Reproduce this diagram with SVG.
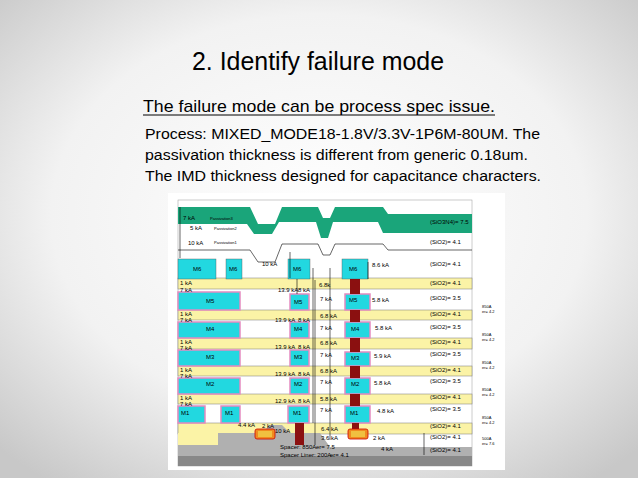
<svg xmlns="http://www.w3.org/2000/svg" width="638" height="478" viewBox="0 0 638 478">
<defs>
<radialGradient id="bg" cx="50%" cy="45%" r="70%"><stop offset="0" stop-color="#ffffff"/><stop offset="0.6" stop-color="#f2f2f2"/><stop offset="1" stop-color="#c8c8c8"/></radialGradient>
<style>
.t{font-family:"Liberation Sans",Arial,sans-serif;fill:#000}
.s{font-family:"Liberation Sans",Arial,sans-serif;font-size:6px;fill:#000}
.xs{font-family:"Liberation Sans",Arial,sans-serif;font-size:4px;fill:#000}
.y{fill:#fbf3a6;stroke:#777;stroke-width:0.5}
.m{fill:#22d8e0;stroke:#e58ac0;stroke-width:1.5}
.v{fill:#8b1010}
.ln{stroke:#000;stroke-width:0.6;fill:none}
</style>
</defs>
<rect width="638" height="478" fill="url(#bg)"/>
<text class="t" x="192" y="70" font-size="25" textLength="252" lengthAdjust="spacingAndGlyphs">2. Identify failure mode</text>
<text class="t" x="143" y="112" font-size="17" textLength="352" lengthAdjust="spacingAndGlyphs">The failure mode can be process spec issue.</text>
<line x1="143" y1="115" x2="495" y2="115" stroke="#000" stroke-width="1"/>
<text class="t" x="145" y="139" font-size="15.5" textLength="395" lengthAdjust="spacingAndGlyphs">Process: MIXED_MODE18-1.8V/3.3V-1P6M-80UM. The</text>
<text class="t" x="145" y="160" font-size="15.5" textLength="383" lengthAdjust="spacingAndGlyphs">passivation thickness is different from generic 0.18um.</text>
<text class="t" x="145" y="181" font-size="15.5" textLength="396" lengthAdjust="spacingAndGlyphs">The IMD thickness designed for capacitance characters.</text>

<g id="figure">
<rect x="168" y="193" width="337" height="277" fill="#fff"/>
<rect x="178" y="200" width="294" height="266" fill="#fff" stroke="#999" stroke-width="0.5"/>
<path d="M178,207 H250 L258,224 H275 L282,207 H318 L323,218 H330 L335,207 H383 L388,214 H472 V233 H383 L378,222 H333 L328,238 H321 L316,222 H279 L272,234 H254 L247,224 H178 Z" fill="#1aa57a"/>
<path class="ln" d="M178,250 H250 L258,262 H275 L282,244 H318 L323,255 H330 L335,244 H383 L388,250 H472"/>
<g id="ild">
<rect class="y" x="178" y="278" width="294" height="11"/>
<rect class="y" x="178" y="310" width="294" height="10"/>
<rect class="y" x="178" y="338" width="294" height="11"/>
<rect class="y" x="178" y="366" width="294" height="10"/>
<rect class="y" x="178" y="394" width="294" height="10"/>
<rect class="y" x="178" y="423" width="294" height="11"/>
</g>
<path d="M178,440 H212 L216,433 H262 L270,425 H282 L290,433 H320 L330,447 H472 V466 H178 Z" fill="#b0b0b0"/>
<rect x="178" y="456" width="294" height="10" fill="#888"/>
<rect x="178" y="433" width="40" height="12" fill="#fbf3a6"/>
<g id="metal6">
<rect x="178" y="259" width="38" height="20" fill="#22d8e0" stroke="#555" stroke-width="0.4"/>
<rect x="226" y="259" width="16" height="20" fill="#22d8e0" stroke="#555" stroke-width="0.4"/>
<rect x="288" y="259" width="22" height="20" fill="#22d8e0" stroke="#555" stroke-width="0.4"/>
<rect x="342" y="259" width="26" height="20" fill="#22d8e0" stroke="#555" stroke-width="0.4"/>
</g>
<g id="metals">
<rect class="m" x="178" y="292" width="62" height="18"/><rect class="m" x="290" y="294" width="19" height="16"/><rect class="m" x="345" y="294" width="25" height="16"/>
<rect class="m" x="178" y="322" width="62" height="16"/><rect class="m" x="290" y="322" width="19" height="16"/><rect class="m" x="345" y="322" width="25" height="16"/>
<rect class="m" x="178" y="350" width="62" height="16"/><rect class="m" x="290" y="350" width="19" height="16"/><rect class="m" x="345" y="352" width="25" height="14"/>
<rect class="m" x="178" y="378" width="62" height="16"/><rect class="m" x="290" y="378" width="19" height="16"/><rect class="m" x="345" y="378" width="25" height="16"/>
<rect class="m" x="178" y="406" width="27" height="17"/><rect class="m" x="221" y="406" width="19" height="17"/><rect class="m" x="288" y="406" width="21" height="17"/><rect class="m" x="345" y="406" width="25" height="17"/>
</g>
<g id="vias">
<rect class="v" x="350" y="279" width="10" height="15"/><rect class="v" x="350" y="310" width="10" height="12"/>
<rect class="v" x="350" y="338" width="10" height="14"/><rect class="v" x="350" y="366" width="10" height="12"/>
<rect class="v" x="350" y="394" width="10" height="12"/><rect class="v" x="352" y="423" width="7" height="14"/>
<rect class="v" x="295" y="423" width="9" height="22"/>
</g>
<g id="gates">
<rect x="255" y="429" width="20" height="10" rx="2" fill="#f08a20" stroke="#c00" stroke-width="0.8"/>
<rect x="258" y="431" width="14" height="6" fill="#f0c040"/>
<rect x="348" y="429" width="20" height="10" rx="2" fill="#f08a20" stroke="#c00" stroke-width="0.8"/>
<rect x="351" y="431" width="14" height="6" fill="#f0c040"/>
</g>
<g id="labels">
<text class="s" x="183" y="220">7 kA</text><text class="xs" x="210" y="220">Passivation3</text>
<text class="s" x="190" y="230">5 kA</text><text class="xs" x="214" y="230">Passivation2</text>
<text class="s" x="188" y="245">10 kA</text><text class="xs" x="214" y="244">Passivation1</text>
<text class="s" x="193" y="271">M6</text><text class="s" x="229" y="271">M6</text><text class="s" x="293" y="271">M6</text><text class="s" x="349" y="271">M6</text>
<text class="s" x="262" y="266">10 kA</text><text class="s" x="372" y="267">8.6 kA</text>
<text class="s" x="180" y="285">1 kA</text><text class="s" x="180" y="292">7 kA</text>
<text class="s" x="319" y="287">6.8k</text><text class="s" x="278" y="292">13.9 kA</text><text class="s" x="298" y="292">8 kA</text>
<text class="s" x="206" y="303">M5</text><text class="s" x="294" y="304">M5</text><text class="s" x="349" y="302">M5</text>
<text class="s" x="320" y="301">7 kA</text><text class="s" x="372" y="302">5.8 kA</text>
<text class="s" x="180" y="316">1 kA</text><text class="s" x="180" y="322">7 kA</text><text class="s" x="320" y="318">6.8 kA</text><text class="s" x="275" y="322">13.9 kA</text><text class="s" x="298" y="322">8 kA</text>
<text class="s" x="206" y="331">M4</text><text class="s" x="294" y="331">M4</text><text class="s" x="351" y="331">M4</text>
<text class="s" x="320" y="330">7 kA</text><text class="s" x="375" y="330">5.8 kA</text>
<text class="s" x="180" y="344">1 kA</text><text class="s" x="180" y="350">7 kA</text><text class="s" x="320" y="345">6.8 kA</text><text class="s" x="275" y="349">13.9 kA</text><text class="s" x="298" y="349">8 kA</text>
<text class="s" x="206" y="359">M3</text><text class="s" x="294" y="359">M3</text><text class="s" x="351" y="360">M3</text>
<text class="s" x="320" y="357">7 kA</text><text class="s" x="374" y="358">5.9 kA</text>
<text class="s" x="180" y="372">1 kA</text><text class="s" x="180" y="378">7 kA</text><text class="s" x="320" y="373">6.8 kA</text><text class="s" x="275" y="376">13.9 kA</text><text class="s" x="298" y="376">8 kA</text>
<text class="s" x="206" y="386">M2</text><text class="s" x="294" y="386">M2</text><text class="s" x="351" y="386">M2</text>
<text class="s" x="320" y="384">7 kA</text><text class="s" x="374" y="385">5.8 kA</text>
<text class="s" x="180" y="400">1 kA</text><text class="s" x="180" y="406">7 kA</text><text class="s" x="320" y="401">5.8 kA</text><text class="s" x="275" y="403">12.9 kA</text><text class="s" x="298" y="403">8 kA</text>
<text class="s" x="181" y="415">M1</text><text class="s" x="225" y="415">M1</text><text class="s" x="293" y="415">M1</text><text class="s" x="350" y="415">M1</text>
<text class="s" x="320" y="412">7 kA</text><text class="s" x="377" y="413">4.8 kA</text>
<text class="s" x="238" y="427">4.4 kA</text><text class="s" x="262" y="428">2 kA</text><text class="s" x="275" y="433">10 kA</text>
<text class="s" x="321" y="431">6.4 kA</text><text class="s" x="321" y="440">3.6 kA</text><text class="s" x="373" y="440">2 kA</text>
<text class="s" x="280" y="449">Spacer: 850A</text><text class="s" x="316" y="449">er= 7.5</text>
<text class="s" x="280" y="457">Spacer Liner: 200A</text><text class="s" x="330" y="457">er= 4.1</text>
<text class="s" x="381" y="451">4 kA</text>
</g>
<g id="kvals">
<text class="s" x="430" y="224">(SiO3N4)= 7.5</text>
<text class="s" x="430" y="244">(SiO2)= 4.1</text>
<text class="s" x="430" y="266">(SiO2)= 4.1</text>
<text class="s" x="430" y="285">(SiO2)= 4.1</text>
<text class="s" x="430" y="300">(SiO2)= 3.5</text>
<text class="s" x="430" y="316">(SiO2)= 4.1</text>
<text class="s" x="430" y="329">(SiO2)= 3.5</text>
<text class="s" x="430" y="344">(SiO2)= 4.1</text>
<text class="s" x="430" y="356">(SiO2)= 3.5</text>
<text class="s" x="430" y="372">(SiO2)= 4.1</text>
<text class="s" x="430" y="383">(SiO2)= 3.5</text>
<text class="s" x="430" y="399">(SiO2)= 4.1</text>
<text class="s" x="430" y="411">(SiO2)= 3.5</text>
<text class="s" x="430" y="428">(SiO2)= 4.1</text>
<text class="s" x="430" y="439">(SiO2)= 4.1</text>
<text class="s" x="430" y="452">(SiO2)= 4.1</text>
<text class="xs" x="482" y="308">850A</text><text class="xs" x="482" y="313">er= 4.2</text>
<text class="xs" x="482" y="336">850A</text><text class="xs" x="482" y="341">er= 4.2</text>
<text class="xs" x="482" y="364">850A</text><text class="xs" x="482" y="369">er= 4.2</text>
<text class="xs" x="482" y="391">850A</text><text class="xs" x="482" y="396">er= 4.2</text>
<text class="xs" x="482" y="419">850A</text><text class="xs" x="482" y="424">er= 4.2</text>
<text class="xs" x="482" y="440">500A</text><text class="xs" x="482" y="445">er= 7.6</text>
</g>
<g id="connectors" stroke="#000" stroke-width="0.6">
<line x1="180" y1="207" x2="180" y2="258"/>
<line x1="290" y1="252" x2="290" y2="278"/>
<line x1="330" y1="268" x2="330" y2="440"/>
<line x1="313" y1="268" x2="313" y2="423"/>
<line x1="368" y1="262" x2="368" y2="279"/>
<line x1="315" y1="280" x2="315" y2="445"/>
<line x1="297" y1="279" x2="297" y2="294"/>
<line x1="424" y1="433" x2="424" y2="455"/>
</g>
</g>
</svg>
